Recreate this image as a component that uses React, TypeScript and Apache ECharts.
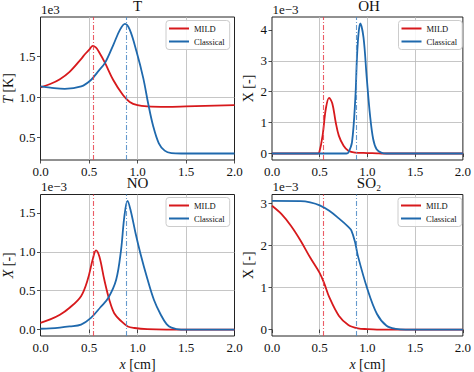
import React, { useEffect, useRef } from "react";
import * as echarts from "echarts";

// ---------- data ----------
const xTicks = [0, 0.5, 1.0, 1.5, 2.0];

// Temperature (x1e3 K)
const tMildX = [0, 0.1, 0.2, 0.3, 0.42, 0.46, 0.5, 0.538, 0.57, 0.6, 0.665, 0.75, 0.85, 0.92, 1.0, 1.1, 1.3, 1.5, 2.0];
const tMildY = [1.12, 1.16, 1.22, 1.31, 1.47, 1.53, 1.58, 1.63, 1.61, 1.56, 1.42, 1.21, 1.025, 0.94, 0.9, 0.885, 0.88, 0.885, 0.9];
const tClassX = [0, 0.1, 0.25, 0.42, 0.52, 0.59, 0.665, 0.75, 0.82, 0.871, 0.92, 0.99, 1.06, 1.11, 1.16, 1.22, 1.28, 1.35, 1.45, 2.0];
const tClassY = [1.13, 1.115, 1.1, 1.13, 1.21, 1.31, 1.42, 1.64, 1.83, 1.9, 1.83, 1.56, 1.23, 0.92, 0.65, 0.43, 0.34, 0.31, 0.305, 0.305];

// OH mole fraction (x1e-3)
const ohMildX = [0, 0.48, 0.495, 0.53, 0.564, 0.598, 0.632, 0.667, 0.7, 0.75, 0.8, 0.87, 1.0, 1.1, 1.15, 2.0];
const ohMildY = [0, 0, 0.03, 0.58, 1.45, 1.8, 1.62, 1.02, 0.58, 0.25, 0.09, 0.03, 0.015, 0.005, 0, 0];
const ohClassX = [0, 0.78, 0.8, 0.838, 0.873, 0.89, 0.907, 0.925, 0.959, 0.993, 1.027, 1.06, 1.096, 1.15, 1.2, 2.0];
const ohClassY = [0, 0, 0.03, 0.36, 1.78, 3.09, 3.9, 4.21, 3.75, 2.44, 1.24, 0.47, 0.14, 0.02, 0, 0];

// NO mole fraction (x1e-3)
const noMildX = [0, 0.1, 0.2, 0.3, 0.418, 0.486, 0.538, 0.572, 0.607, 0.658, 0.71, 0.76, 0.83, 0.9, 0.97, 1.1, 1.3, 2.0];
const noMildY = [0.085, 0.13, 0.19, 0.28, 0.43, 0.64, 0.9, 1.02, 0.94, 0.64, 0.38, 0.21, 0.11, 0.04, 0.02, 0.005, 0, 0];
const noClassX = [0, 0.1, 0.2, 0.3, 0.418, 0.52, 0.62, 0.7, 0.78, 0.83, 0.864, 0.897, 0.93, 0.98, 1.03, 1.1, 1.17, 1.24, 1.3, 1.35, 1.45, 2.0];
const noClassY = [0.01, 0.015, 0.025, 0.04, 0.064, 0.15, 0.29, 0.41, 0.64, 1.02, 1.45, 1.655, 1.53, 1.24, 0.98, 0.66, 0.38, 0.19, 0.07, 0.025, 0, 0];

// SO2 mole fraction (x1e-3)
const so2MildX = [0, 0.1, 0.2, 0.3, 0.4, 0.5, 0.55, 0.6, 0.7, 0.8, 0.9, 1.0, 1.1, 2.0];
const so2MildY = [2.94, 2.74, 2.46, 2.11, 1.71, 1.34, 1.08, 0.77, 0.33, 0.11, 0.03, 0.01, 0, 0];
const so2ClassX = [0, 0.3, 0.4, 0.5, 0.6, 0.7, 0.8, 0.83, 0.87, 0.9, 1.0, 1.1, 1.2, 1.3, 1.4, 2.0];
const so2ClassY = [3.055, 3.05, 3.02, 2.95, 2.82, 2.64, 2.44, 2.36, 2.08, 1.75, 0.96, 0.37, 0.09, 0.015, 0, 0];

// flame front positions
const mildFront = 0.54;
const classicalFront = 0.875;

// y tick labels
const tTicks = [0.5, 1.0, 1.5];
const ohTicks = [0, 1, 2, 3, 4];
const noTicks = [0.0, 0.5, 1.0, 1.5];
const so2Ticks = [0, 1, 2, 3];

const titles = ["T", "OH", "NO", "SO₂"];
const offsets = ["1e3", "1e−3", "1e−3", "1e−3"];

// ---------- styles ----------
const RED = "#d7191c";
const BLUE = "#1f69ad";
const RED_V = "#e8404a";
const BLUE_V = "#4a88c4";
const FONT = "Liberation Serif";
const GRIDS = [
  { left: 40.5, top: 17, width: 194, height: 143 },
  { left: 272, top: 17, width: 194, height: 143 },
  { left: 40.5, top: 194.5, width: 194, height: 143 },
  { left: 272, top: 194.5, width: 194, height: 143 },
];
const YRANGES = [
  [0.225, 1.985],
  [-0.21, 4.42],
  [-0.083, 1.738],
  [-0.153, 3.208],
];
const YSPLIT = [3, 5, 3, 3];
const YTICKS = [tTicks, ohTicks, noTicks, so2Ticks];
const YDEC = [1, 0, 1, 0];
const YNAMES = ["{i|T} [K]", "X [-]", "{i|X} [-]", "X [-]"];
const YGAP = [25, 17, 25, 17];
const LEGEND_POS = [
  [166, 20.5],
  [398.5, 20.5],
  [166, 197.5],
  [398, 197.5],
];

const pairs = (xs: number[], ys: number[]) => xs.map((x, i) => [x, ys[i]]);

export default function App() {
  const ref = useRef<HTMLDivElement>(null);
  useEffect(() => {
    if (!ref.current) return;
    const chart = echarts.init(ref.current, undefined, { renderer: "svg" });

    const seriesData = [
      [pairs(tMildX, tMildY), pairs(tClassX, tClassY)],
      [pairs(ohMildX, ohMildY), pairs(ohClassX, ohClassY)],
      [pairs(noMildX, noMildY), pairs(noClassX, noClassY)],
      [pairs(so2MildX, so2MildY), pairs(so2ClassX, so2ClassY)],
    ];

    const tickColor = "#222";
    const series: any[] = [];
    const mk = (pos: number, col: string) => ({
      silent: true,
      symbol: ["none", "none"],
      label: { show: false },
      emphasis: { disabled: true },
      itemStyle: { color: col },
      lineStyle: { color: col, width: 1.1, type: [5, 2, 1, 2], opacity: 0.85 },
      data: [{ xAxis: pos }],
    });
    seriesData.forEach((d, i) => {
      series.push({
        type: "line",
        name: "MILD",
        color: RED,
        xAxisIndex: i,
        yAxisIndex: i,
        data: d[0],
        symbol: "none",
        smooth: 0.35,
        lineStyle: { color: RED, width: 1.8 },
        itemStyle: { color: RED },
        z: 3,
        markLine: mk(mildFront, RED_V),
      });
      series.push({
        type: "line",
        name: "Classical",
        color: BLUE,
        xAxisIndex: i,
        yAxisIndex: i,
        data: d[1],
        symbol: "none",
        smooth: 0.35,
        lineStyle: { color: BLUE, width: 1.8 },
        itemStyle: { color: BLUE },
        z: 3,
        markLine: mk(classicalFront, BLUE_V),
      });
    });

    const option: any = {
      animation: false,
      backgroundColor: "#ffffff",
      color: [RED, BLUE],
      textStyle: { fontFamily: FONT },
      grid: GRIDS.map((g) => ({
        ...g,
        show: true,
        borderColor: "#222",
        borderWidth: 1,
        backgroundColor: "transparent",
      })),
      xAxis: GRIDS.map((g, i) => ({
        type: "value",
        gridIndex: i,
        min: 0,
        max: 2,
        interval: 0.5,
        axisLine: { show: false },
        axisTick: { show: true, length: 3.5, lineStyle: { color: tickColor, width: 0.8 } },
        axisLabel: {
          show: true,
          margin: 5,
          fontFamily: FONT,
          fontSize: 13,
          color: "#111",
          formatter: (v: number) => v.toFixed(1),
          customValues: xTicks,
        },
        splitLine: {
          show: true,
          showMinLine: false,
          showMaxLine: false,
          lineStyle: { color: "#b8b8b8", width: 0.8 },
        },
        name: i >= 2 ? "{i|x} [cm]" : "",
        nameLocation: "middle",
        nameGap: 21,
        nameTextStyle: {
          fontFamily: FONT,
          fontSize: 14,
          color: "#111",
          rich: { i: { fontFamily: FONT, fontSize: 14, fontStyle: "italic", color: "#111" } },
        },
      })),
      yAxis: GRIDS.map((g, i) => ({
        type: "value",
        gridIndex: i,
        min: YRANGES[i][0],
        max: YRANGES[i][1],
        splitNumber: YSPLIT[i],
        axisLine: { show: false },
        axisTick: {
          show: true,
          length: 3.5,
          lineStyle: { color: tickColor, width: 0.8 },
          customValues: YTICKS[i],
        },
        axisLabel: {
          show: true,
          margin: 5,
          fontFamily: FONT,
          fontSize: 13,
          color: "#111",
          customValues: YTICKS[i],
          formatter: (v: number) => v.toFixed(YDEC[i]),
        },
        splitLine: {
          show: true,
          showMinLine: false,
          showMaxLine: false,
          lineStyle: { color: "#b8b8b8", width: 0.8 },
        },
        name: YNAMES[i],
        nameLocation: "middle",
        nameGap: YGAP[i],
        nameTextStyle: {
          fontFamily: FONT,
          fontSize: 14,
          color: "#111",
          rich: { i: { fontFamily: FONT, fontSize: 14, fontStyle: "italic", color: "#111" } },
        },
      })),
      legend: GRIDS.map((g, i) => ({
        data: ["MILD", "Classical"],
        orient: "vertical",
        left: LEGEND_POS[i][0],
        top: LEGEND_POS[i][1],
        icon: "rect",
        itemWidth: 20,
        itemHeight: 2,
        itemGap: 3,
        padding: [3, 5, 3, 3],
        borderColor: "#cccccc",
        borderWidth: 1,
        borderRadius: 3,
        backgroundColor: "rgba(255,255,255,0.85)",
        selectedMode: false,
        textStyle: { fontFamily: FONT, fontSize: 8.5, color: "#111", lineHeight: 10 },
      })),
      graphic: [
        ...GRIDS.map((g, i) => ({
          type: "text",
          x: g.left + g.width / 2,
          y: g.top - 4,
          style: {
            text: titles[i],
            fontFamily: FONT,
            fontSize: 15,
            fill: "#111",
            textAlign: "center",
            textVerticalAlign: "bottom",
          },
        })),
        ...GRIDS.map((g, i) => ({
          type: "text",
          x: g.left + 0.5,
          y: g.top - 1.5,
          style: {
            text: offsets[i],
            fontFamily: FONT,
            fontSize: 13,
            fill: "#111",
            textAlign: "left",
            textVerticalAlign: "bottom",
          },
        })),
      ],
      series,
    };
    chart.setOption(option);
    return () => chart.dispose();
  }, []);

  return (
    <div
      ref={ref}
      style={{ position: "absolute", left: 0, top: 0, width: 474, height: 372, background: "#fff" }}
    />
  );
}
